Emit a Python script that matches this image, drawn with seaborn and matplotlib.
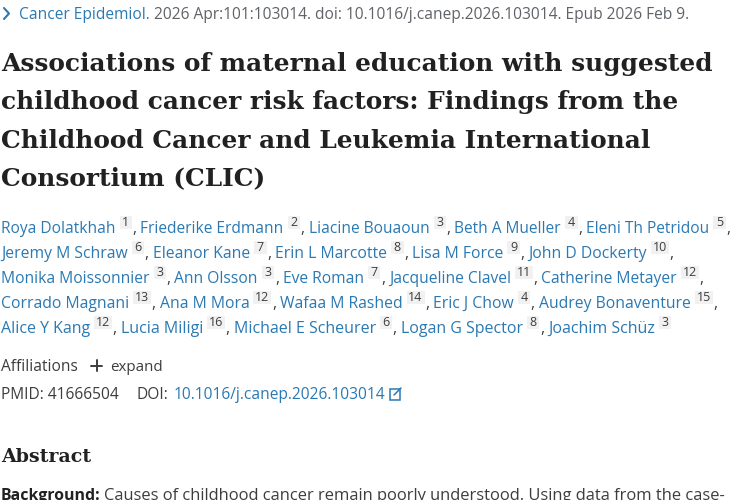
import matplotlib
matplotlib.use("Agg")
import matplotlib.pyplot as plt
from matplotlib.patches import Rectangle
import seaborn as sns

sns.set_theme(style="white")
plt.rcParams["font.family"] = ["Open Sans", "DejaVu Sans"]

# Page content
journal = "Cancer Epidemiol."
citation = "2026 Apr:101:103014. doi: 10.1016/j.canep.2026.103014. Epub 2026 Feb 9."
title_lines = [
    "Associations of maternal education with suggested",
    "childhood cancer risk factors: Findings from the",
    "Childhood Cancer and Leukemia International",
    "Consortium (CLIC)",
]
authors = [
    "Roya Dolatkhah", "Friederike Erdmann", "Liacine Bouaoun", "Beth A Mueller", "Eleni Th Petridou",
    "Jeremy M Schraw", "Eleanor Kane", "Erin L Marcotte", "Lisa M Force", "John D Dockerty",
    "Monika Moissonnier", "Ann Olsson", "Eve Roman", "Jacqueline Clavel", "Catherine Metayer",
    "Corrado Magnani", "Ana M Mora", "Wafaa M Rashed", "Eric J Chow", "Audrey Bonaventure",
    "Alice Y Kang", "Lucia Miligi", "Michael E Scheurer", "Logan G Spector", "Joachim Schüz",
]
affils = [
    "1", "2", "3", "4", "5",
    "6", "7", "8", "9", "10",
    "3", "3", "7", "11", "12",
    "13", "12", "14", "4", "15",
    "12", "16", "6", "8", "3",
]
per_line = 5
pmid = "PMID: 41666504"
doi = "10.1016/j.canep.2026.103014"
abstract_head = "Abstract"
background_label = "Background:"
background_text = "Causes of childhood cancer remain poorly understood. Using data from the case-"

BLUE = "#2a79b3"
DARK = "#212121"
GREY = "#5f6368"
BODY = "#3d3d3d"
BADGE = "#f1f1f1"
SERIF = "DejaVu Serif"

fig = plt.figure(figsize=(7.5, 5), dpi=100)
ax = fig.add_axes([0, 0, 1, 1])
ax.set_xlim(0, 750)
ax.set_ylim(500, 0)
ax.axis("off")
fig.canvas.draw()
rend = fig.canvas.get_renderer()


def put(x, y, s, size, color, **kw):
    t = ax.text(x, y, s, fontsize=size, color=color, va="baseline", ha="left", **kw)
    return x + t.get_window_extent(rend).width


# Journal line
ax.plot([4, 9, 4], [8, 13.5, 19], color=BLUE, lw=1.5)
end = put(19, 19, journal, 11.2, BLUE)
put(end + 4.5, 19, citation, 11.2, GREY)

# Title
for i, line in enumerate(title_lines):
    put(1, 71.5 + 38 * i, line, 17.9, DARK, family=SERIF, weight="bold")

# Authors, with the affiliation number boxes
# sizes differ a little per row so the line ends land where they should
row_sizes = [11.2, 11.3, 11.27, 11.3, 11.55]
for i, (name, num) in enumerate(zip(authors, affils)):
    row = i // per_line
    size = row_sizes[row]
    y = 233 + 25 * row
    if i % per_line == 0:
        x = 1
    x = put(x, y, name, size, BLUE)
    w = 12.5 if len(num) == 1 else 18
    ax.add_patch(Rectangle((x + 4, y - 17), w, 13, color=BADGE, lw=0))
    ax.text(x + 4 + w / 2, y - 10.5, num, fontsize=9, color=BODY, ha="center", va="center")
    x = x + 4 + w
    if i < len(authors) - 1:
        put(x + 0.5, y, ",", size, BODY)
    x += 8.5

# Affiliations and ids
put(1, 371, "Affiliations", 11.2, BODY)
ax.plot([91, 102], [365.5, 365.5], color=BODY, lw=1.4)
ax.plot([96.5, 96.5], [360, 371], color=BODY, lw=1.4)
put(110, 371, "expand", 10.9, BODY)

put(1, 399, pmid, 11.2, BODY)
put(137, 399, "DOI:", 11.2, BODY)
put(174, 399, doi, 11.2, BLUE)
ax.add_patch(Rectangle((390, 389), 10, 10.5, fill=False, ec=BLUE, lw=1.1))
ax.plot([394, 401], [395, 388], color=BLUE, lw=1.1)

# Abstract
put(1, 462, abstract_head, 13.7, DARK, family=SERIF, weight="bold")
put(1, 500, background_label, 11.4, DARK, weight="bold")
put(104, 500, background_text, 11.85, BODY)

sns.despine(ax=ax, left=True, bottom=True)
fig.savefig("out.png", dpi=100)
